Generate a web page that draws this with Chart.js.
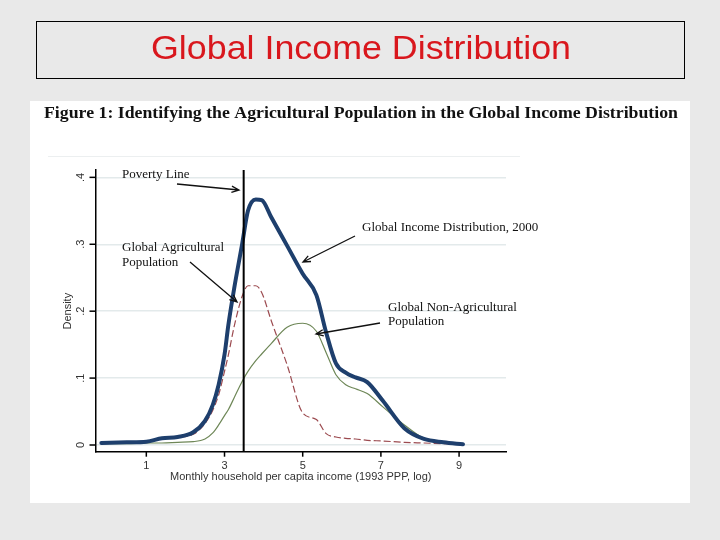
<!DOCTYPE html>
<html>
<head>
<meta charset="utf-8">
<script src="https://cdn.jsdelivr.net/npm/chart.js@4.4.1/dist/chart.umd.min.js"></script>
<style>
  html, body { margin: 0; padding: 0; background: #e9e9e9; }
  #wrap { width: 720px; height: 540px; position: relative; }
</style>
</head>
<body>
<div id="wrap"><canvas id="incomeChart" width="720" height="540"></canvas></div>
<script>
// log monthly income grid (x) and density of each group
const incomeLog = [-0.15, 0.5, 1.0, 1.4, 1.8, 2.2, 2.5, 2.7, 2.85, 3.0, 3.1, 3.25, 3.45, 3.6, 3.8, 3.95,
                   4.2, 4.6, 5.0, 5.35, 5.6, 5.85, 6.1, 6.35, 6.65, 7.05, 7.6, 8.1, 8.6, 9.1];
const globalDensity = [0.003, 0.004, 0.005, 0.010, 0.012, 0.019, 0.036, 0.060, 0.090, 0.135, 0.180, 0.235, 0.300, 0.350, 0.367, 0.366,
                       0.340, 0.298, 0.256, 0.224, 0.168, 0.122, 0.108, 0.101, 0.094, 0.066, 0.025, 0.009, 0.004, 0.001];
const agriDensity = [0.002, 0.003, 0.005, 0.011, 0.012, 0.016, 0.032, 0.052, 0.075, 0.110, 0.135, 0.178, 0.222, 0.238, 0.238, 0.228,
                     0.185, 0.120, 0.048, 0.038, 0.017, 0.012, 0.010, 0.009, 0.007, 0.006, 0.004, 0.003, 0.002, 0.001];
const nonAgriDensity = [0.002, 0.002, 0.003, 0.003, 0.004, 0.005, 0.009, 0.018, 0.030, 0.044, 0.053, 0.071, 0.095, 0.110, 0.126, 0.136,
                        0.152, 0.176, 0.182, 0.170, 0.138, 0.105, 0.090, 0.084, 0.077, 0.057, 0.030, 0.010, 0.004, 0.001];
const povertyLine = 3.49;
const xTicks = [1, 3, 5, 7, 9];
const yTicks = [0, 0.1, 0.2, 0.3, 0.4];
const yTickLabels = ['0', '.1', '.2', '.3', '.4'];
const xRange = [-0.3, 10.2];
const yRange = [-0.01, 0.411];

function toPoints(ys) {
    return incomeLog.map(function(x, i) { return { x: x, y: ys[i] }; });
}

function arrow(ctx, x1, y1, x2, y2) {
    const a = Math.atan2(y2 - y1, x2 - x1);
    const h = 8;
    ctx.beginPath();
    ctx.moveTo(x1, y1);
    ctx.lineTo(x2, y2);
    ctx.moveTo(x2 - h * Math.cos(a - 0.4), y2 - h * Math.sin(a - 0.4));
    ctx.lineTo(x2, y2);
    ctx.lineTo(x2 - h * Math.cos(a + 0.4), y2 - h * Math.sin(a + 0.4));
    ctx.stroke();
}

function fitText(ctx, text, x, y, width) {
    const w = ctx.measureText(text).width;
    ctx.save();
    ctx.translate(x, y);
    ctx.scale(width / w, 1);
    ctx.fillText(text, 0, 0);
    ctx.restore();
}

// slide frame, title box and white figure panel behind the chart
const slideBackground = {
    id: 'slideBackground',
    beforeDraw: function(chart) {
        const ctx = chart.ctx;
        ctx.save();
        ctx.fillStyle = '#e9e9e9';
        ctx.fillRect(0, 0, 720, 540);
        ctx.strokeStyle = '#000';
        ctx.lineWidth = 1;
        ctx.strokeRect(36.5, 21.5, 648, 57);
        ctx.fillStyle = '#d9171d';
        ctx.font = '34px "Liberation Sans", Arial, sans-serif';
        ctx.textBaseline = 'middle';
        ctx.textAlign = 'left';
        fitText(ctx, 'Global Income Distribution', 151, 50, 420);

        ctx.fillStyle = '#ffffff';
        ctx.fillRect(30, 101, 660, 402);
        ctx.fillStyle = '#111';
        ctx.font = 'bold 17px "Liberation Serif", "Times New Roman", serif';
        fitText(ctx, 'Figure 1: Identifying the Agricultural Population in the Global Income Distribution', 44, 114, 634);

        ctx.strokeStyle = '#eceff0';
        ctx.lineWidth = 1;
        ctx.beginPath();
        ctx.moveTo(48, 156.5);
        ctx.lineTo(520, 156.5);
        ctx.stroke();
        ctx.restore();
    },
    afterDraw: function(chart) {
        const ctx = chart.ctx;
        const xs = chart.scales.x, ys = chart.scales.y;
        const area = chart.chartArea;
        ctx.save();
        ctx.strokeStyle = '#000';
        ctx.lineWidth = 1.5;
        ctx.fillStyle = '#333';
        ctx.font = '11px "Liberation Sans", Arial, sans-serif';
        ctx.textAlign = 'center';
        ctx.textBaseline = 'middle';
        xTicks.forEach(function(v) {
            const px = xs.getPixelForValue(v);
            ctx.beginPath();
            ctx.moveTo(px, area.bottom);
            ctx.lineTo(px, area.bottom + 5);
            ctx.stroke();
            ctx.fillText(String(v), px, area.bottom + 14);
        });
        yTicks.forEach(function(v, i) {
            const py = ys.getPixelForValue(v);
            ctx.beginPath();
            ctx.moveTo(area.left - 6, py);
            ctx.lineTo(area.left, py);
            ctx.stroke();
            ctx.save();
            ctx.translate(area.left - 15, py);
            ctx.rotate(-Math.PI / 2);
            ctx.fillText(yTickLabels[i], 0, 0);
            ctx.restore();
        });
        ctx.fillText('Monthly household per capita income (1993 PPP, log)', (area.left + area.right) / 2, area.bottom + 25);
        ctx.save();
        ctx.translate(area.left - 28, ys.getPixelForValue(0.2));
        ctx.rotate(-Math.PI / 2);
        ctx.fillText('Density', 0, 0);
        ctx.restore();

        // annotations
        ctx.fillStyle = '#111';
        ctx.font = '13px "Liberation Serif", "Times New Roman", serif';
        ctx.textAlign = 'left';
        ctx.fillText('Poverty Line', 122, 175);
        ctx.fillText('Global Agricultural', 122, 248);
        ctx.fillText('Population', 122, 263);
        ctx.fillText('Global Income Distribution, 2000', 362, 228);
        ctx.fillText('Global Non-Agricultural', 388, 308);
        ctx.fillText('Population', 388, 322);
        ctx.lineWidth = 1.3;
        ctx.strokeStyle = '#111';
        arrow(ctx, 177, 184, 239, 190);
        arrow(ctx, 190, 262, 237, 302);
        arrow(ctx, 355, 236, 303, 262);
        arrow(ctx, 380, 323, 316, 334);
        ctx.restore();
    }
};

new Chart(document.getElementById('incomeChart'), {
    type: 'line',
    data: {
        datasets: [
            {
                label: 'Poverty Line',
                data: [{ x: povertyLine, y: yRange[0] }, { x: povertyLine, y: yRange[1] }],
                borderColor: '#000',
                borderWidth: 2,
                pointRadius: 0
            },
            {
                label: 'Global Income Distribution, 2000',
                data: toPoints(globalDensity),
                borderColor: '#1e3f6d',
                borderWidth: 4,
                borderCapStyle: 'round',
                pointRadius: 0,
                tension: 0.4,
                cubicInterpolationMode: 'monotone'
            },
            {
                label: 'Global Agricultural Population',
                data: toPoints(agriDensity),
                borderColor: '#9c4b50',
                borderWidth: 1.2,
                borderDash: [7, 3],
                pointRadius: 0,
                cubicInterpolationMode: 'monotone'
            },
            {
                label: 'Global Non-Agricultural Population',
                data: toPoints(nonAgriDensity),
                borderColor: '#6e8757',
                borderWidth: 1.2,
                pointRadius: 0,
                cubicInterpolationMode: 'monotone'
            }
        ]
    },
    options: {
        responsive: false,
        animation: false,
        layout: { padding: { left: 95.5, top: 170, right: 214, bottom: 88.3 } },
        scales: {
            x: {
                type: 'linear',
                min: xRange[0],
                max: xRange[1],
                grid: { display: false, drawTicks: false },
                border: { display: true, color: '#000', width: 1.5 },
                ticks: { display: false }
            },
            y: {
                min: yRange[0],
                max: yRange[1],
                afterBuildTicks: function(scale) {
                    scale.ticks = yTicks.map(function(v) { return { value: v }; });
                },
                grid: { color: '#e3eaeb', lineWidth: 1.5, drawTicks: false },
                border: { display: true, color: '#000', width: 1.5 },
                ticks: { display: false }
            }
        },
        plugins: {
            legend: { display: false },
            tooltip: { enabled: false }
        }
    },
    plugins: [slideBackground]
});
</script>
</body>
</html>
